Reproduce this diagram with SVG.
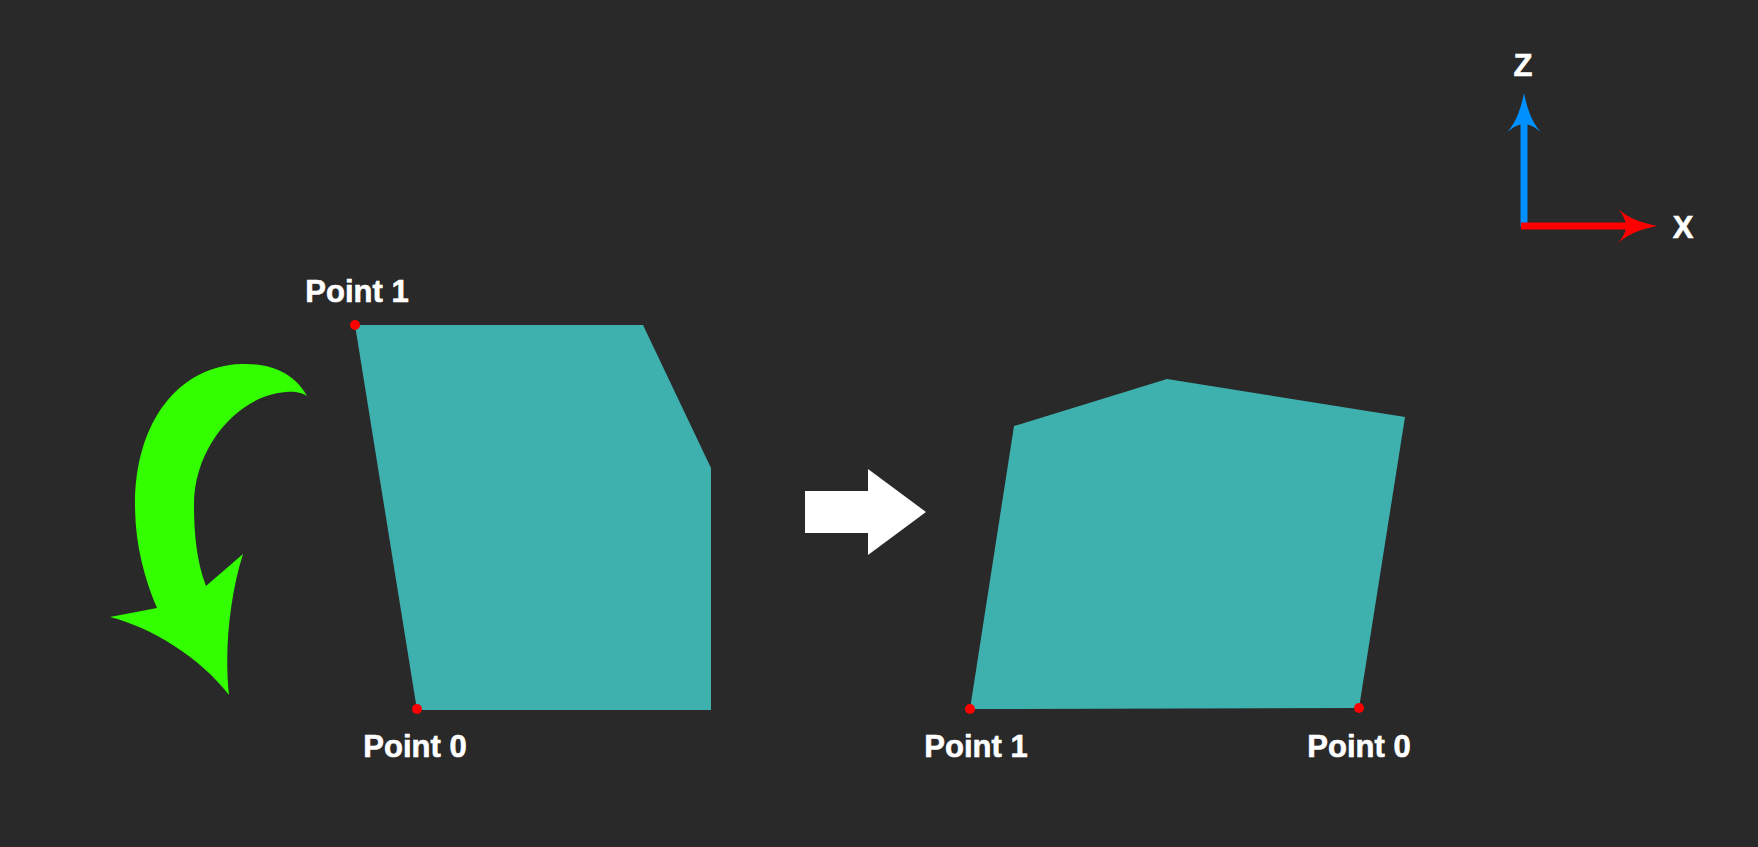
<svg xmlns="http://www.w3.org/2000/svg" width="1758" height="847" viewBox="0 0 1758 847">
<style>
.lbl{font-family:"Liberation Sans",Arial,sans-serif;font-weight:bold;font-size:31px;fill:#ffffff;text-anchor:middle;stroke:#ffffff;stroke-width:0.6px}
.face{fill:#3eb0ae}
.dot{fill:#ff0000}
</style>
<rect x="0" y="0" width="1758" height="847" fill="#292929"/>
<g id="axes">
<line x1="1524" y1="227" x2="1524" y2="120" stroke="#0090ff" stroke-width="7"/>
<path d="M1524,93 Q1518,124 1503,136 Q1515,124 1524,124 Q1533,124 1545,136 Q1530,124 1524,93 Z" fill="#0090ff"/>
<line x1="1521" y1="226" x2="1630" y2="226" stroke="#ff0000" stroke-width="7"/>
<path d="M1657,226 Q1626,220 1615,205 Q1626,217 1626,226 Q1626,235 1615,247 Q1626,232 1657,226 Z" fill="#ff0000"/>
<text class="lbl" x="1523" y="76">Z</text>
<text class="lbl" x="1683" y="238">X</text>
</g>
<g id="rotation-arrow">
<path d="M307,396 C295,374 272,363 241,364 C180,366 135,420 135,505 C135,545 145,580 157,608 L110,617 C150,627 200,657 229,695 C224,650 230,595 243,554 L206,586 C196,560 194,530 194,505 C194,445 240,395 286,392 C296,391 302,393 307,396 Z" fill="#33ff00"/>
</g>
<g id="shape-before">
<polygon class="face" points="355,325 643,325 711,468 711,710 417,710"/>
<circle class="dot" cx="355" cy="325" r="5"/>
<circle class="dot" cx="417" cy="709" r="5"/>
<text class="lbl" x="357" y="302">Point 1</text>
<text class="lbl" x="415" y="757">Point 0</text>
</g>
<g id="transition-arrow">
<polygon points="805,491 868,491 868,469 926,512 868,555 868,533 805,533" fill="#ffffff"/>
</g>
<g id="shape-after">
<polygon class="face" points="970,709 1014,426 1167,379 1405,417 1359,708"/>
<circle class="dot" cx="970" cy="709" r="5"/>
<circle class="dot" cx="1359" cy="708" r="5"/>
<text class="lbl" x="976" y="757">Point 1</text>
<text class="lbl" x="1359" y="757">Point 0</text>
</g>
</svg>
